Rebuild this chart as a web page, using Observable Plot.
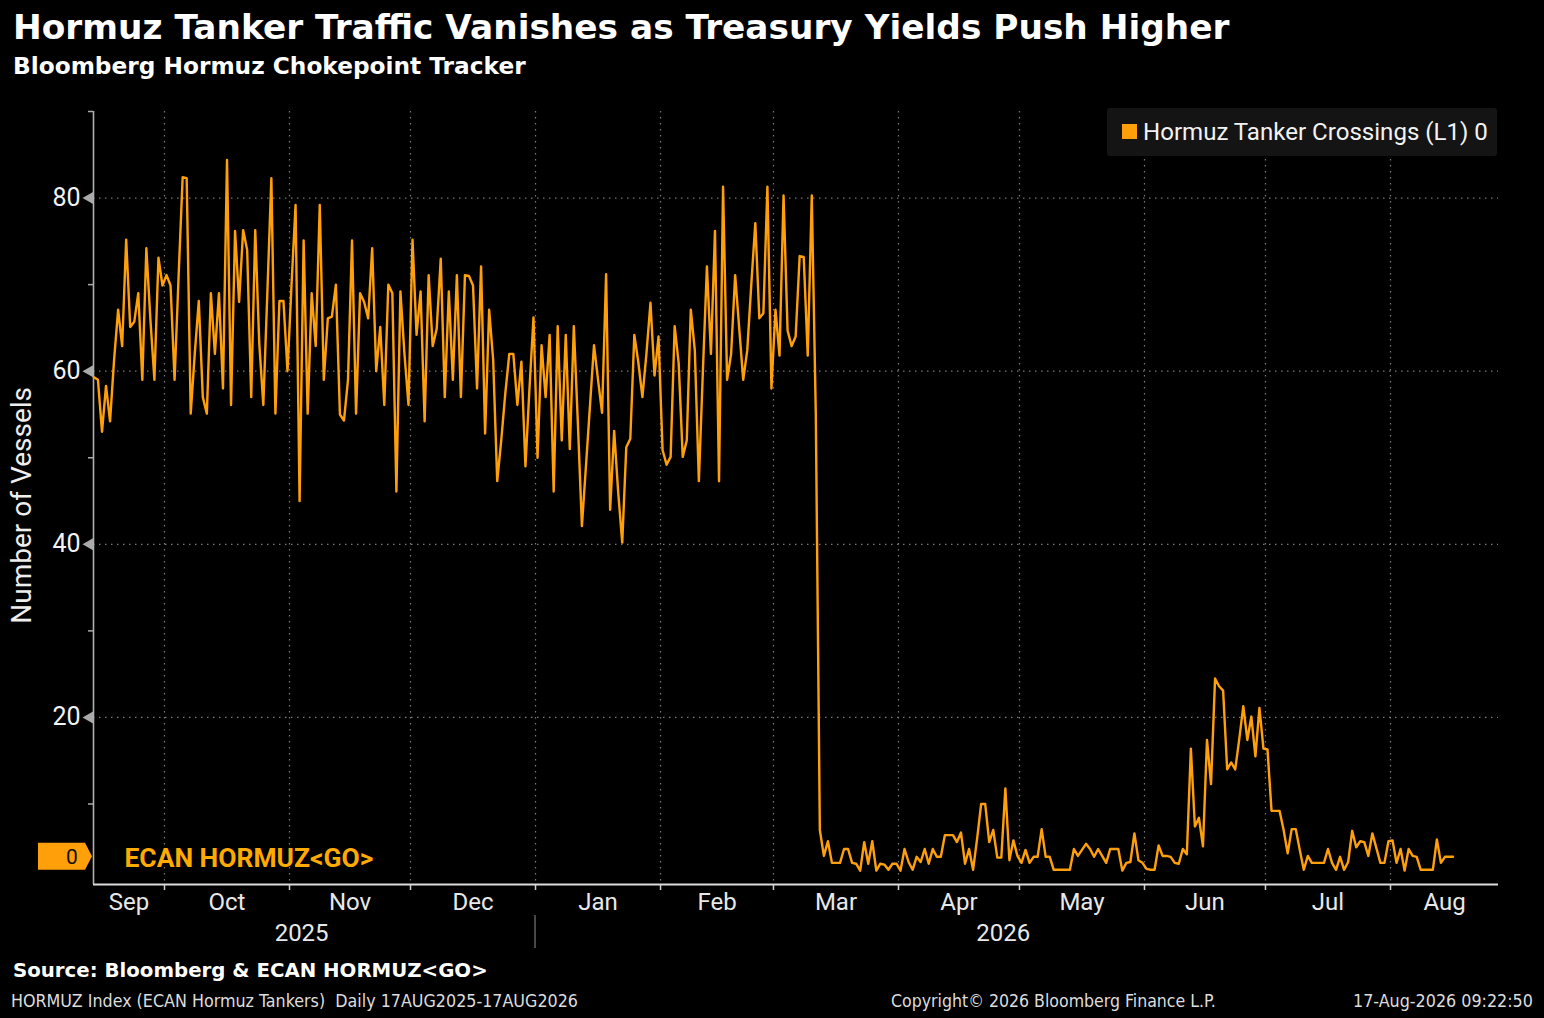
<!DOCTYPE html>
<html>
<head>
<meta charset="utf-8">
<script src="https://cdn.jsdelivr.net/npm/d3@7"></script>
<script src="https://cdn.jsdelivr.net/npm/@observablehq/plot@0.6"></script>
<style>
  html, body { margin: 0; padding: 0; background: #000; }
  body { width: 1544px; height: 1018px; position: relative; overflow: hidden; }
  .t { position: absolute; white-space: pre; display: inline-block; line-height: 1; transform: translateY(-50%); }
  #title { left: 13px; top: 27px; font: bold 32px "DejaVu Sans", sans-serif; color: #fff; }
  #subtitle { left: 13px; top: 65px; font: bold 22px "DejaVu Sans", sans-serif; color: #fff; }
  #source { left: 13px; top: 970px; font: bold 19px "DejaVu Sans", sans-serif; color: #fff; }
  #foot1 { left: 11px; top: 1001px; font: 16px "DejaVu Sans Condensed", "DejaVu Sans", sans-serif; color: #ddd; }
  #foot2 { left: 891px; top: 1001px; font: 16px "DejaVu Sans Condensed", "DejaVu Sans", sans-serif; color: #ddd; }
  #foot3 { left: 1353px; top: 1001px; font: 16px "DejaVu Sans Condensed", "DejaVu Sans", sans-serif; color: #ddd; }
  #chart { position: absolute; left: 0; top: 88px; }
  #legend { position: absolute; left: 1107px; top: 108px; width: 390px; height: 48px; background: #141414; border-radius: 3px; }
  #legend .sw { position: absolute; left: 15px; top: 16px; width: 15px; height: 15px; }
  #legend .lt { position: absolute; left: 36px; top: 24px; white-space: nowrap; line-height: 1; transform: translateY(-50%); font: 23px Roboto, sans-serif; color: #f2f2f2; }
</style>
</head>
<body>
<div id="title" class="t"></div>
<div id="subtitle" class="t"></div>
<div id="chart"></div>
<div id="legend"><div class="sw"></div><div class="lt"></div></div>
<div id="source" class="t"></div>
<div id="foot1" class="t"></div>
<div id="foot2" class="t"></div>
<div id="foot3" class="t"></div>
<script>
// ---------------- DATA ----------------
const titleText = "Hormuz Tanker Traffic Vanishes as Treasury Yields Push Higher";
const subtitleText = "Bloomberg Hormuz Chokepoint Tracker";
const sourceText = "Source: Bloomberg & ECAN HORMUZ<GO>";
const footLeft = "HORMUZ Index (ECAN Hormuz Tankers)  Daily 17AUG2025-17AUG2026";
const footMid = "Copyright\u00a9 2026 Bloomberg Finance L.P.";
const footRight = "17-Aug-2026 09:22:50";
const seriesName = "Hormuz Tanker Crossings (L1) 0";
const tagText = "0";
const tickerText = "ECAN HORMUZ<GO>";
const yLabel = "Number of Vessels";

// first visible daily observation (13 Sep 2025), one value per day
const firstDay = "2025-09-13";
const values = [
  59.3, 59, 53, 58.3, 54.2, 61.3, 67.1, 62.9, 75.2, 65.1, 65.7, 69, 59, 74.2, 66, 59, 73.1, 69.9, 71.1, 69.9,
  59, 71, 82.4, 82.3, 55.1, 62, 68.1, 57, 55.1, 69, 62, 69, 58, 84.4, 56.1, 76.2, 68, 76.3, 74, 57,
  76.3, 63.2, 56.1, 69, 82.3, 55.1, 68.1, 68.1, 60, 70, 79.2, 45, 75.1, 55.1, 69, 62.9, 79.2, 59, 66.1, 66.3,
  70, 55, 54.3, 59, 75.1, 55.1, 69, 68, 66.1, 74.2, 60, 65.1, 56.1, 70, 69, 46.1, 69.2, 62, 56.1, 75.2,
  64.2, 69.2, 54.2, 71.1, 62.9, 64.9, 73, 57, 69.2, 59, 71.1, 57, 71.1, 71, 69.9, 58, 72.1, 52.8, 67.1, 61.3,
  47.3, 52, 57.4, 62, 62, 56.1, 61.1, 49, 58, 66.2, 50, 63, 57, 64.2, 46.1, 65.2, 52, 64.2, 51, 65.2,
  54, 42.1, 49, 56, 63, 59, 55.2, 71.2, 44, 53.1, 46, 40.2, 51.2, 52.2, 64.2, 61, 57, 62, 67.9, 59.5,
  64, 50.9, 49.2, 50.1, 65.2, 60.9, 50.1, 52, 67.1, 62.4, 47.3, 60, 72.1, 62, 76.2, 47.3, 81.3, 59, 62, 71.1,
  65, 59, 62.4, 70, 77.1, 66.1, 66.7, 81.3, 58, 67.1, 61.8, 80.3, 64.7, 62.9, 64, 73.3, 73.2, 61.8, 80.3, 55,
  7, 4.0, 5.7, 3.2, 3.2, 3.2, 4.8, 4.8, 3.2, 3.1, 2.3, 5.6, 3.1, 5.7, 2.3, 3.1, 3.0, 2.4, 3.1, 3.1,
  2.3, 4.8, 3.3, 2.4, 3.9, 3.3, 4.8, 3.1, 4.8, 3.9, 3.9, 6.4, 6.4, 6.4, 5.6, 6.7, 3.1, 4.8, 2.4, 6,
  10, 10, 5.6, 7, 3.8, 3.8, 11.8, 3.5, 5.8, 4.0, 3.2, 4.7, 3.2, 3.9, 3.9, 7.1, 3.9, 3.9, 2.4, 2.4,
  2.4, 2.4, 2.4, 4.8, 4.0, 4.7, 5.4, 4.8, 3.9, 4.8, 4.0, 3.2, 4.8, 4.8, 4.8, 2.3, 3.2, 3.3, 6.6, 3.5,
  3.2, 2.5, 2.4, 2.4, 5.2, 4.0, 4.0, 3.9, 3.2, 3.1, 4.8, 4.2, 16.4, 7.4, 8.4, 5.1, 17.4, 12.3, 24.5, 23.6,
  23.1, 14, 14.8, 14, 17.5, 21.3, 17.4, 20.1, 15.5, 21.1, 16.4, 16.3, 9.2, 9.2, 9.2, 7, 4.3, 7.1, 7.1, 4.7,
  2.4, 4.0, 3.2, 3.2, 3.2, 3.2, 4.8, 3.2, 2.4, 3.9, 2.4, 3.3, 6.9, 5.0, 5.7, 5.6, 4.0, 6.6, 4.9, 3.2,
  3.2, 5.7, 5.8, 3.2, 4.8, 2.3, 4.8, 4.0, 3.9, 2.4, 2.4, 2.4, 2.4, 5.9, 3.2, 3.9, 3.9, 3.9
];

const monthLabels = ["Sep", "Oct", "Nov", "Dec", "Jan", "Feb", "Mar", "Apr", "May", "Jun", "Jul", "Aug"];
const yearLabels = ["2025", "2026"];
const yearLabelDates = ["2025-11-04", "2026-04-27"];
const yearBreak = "2026-01-01";
const yTicks = [20, 40, 60, 80];
const yMinorTicks = [10, 30, 50, 70, 90];
const xDomainISO = ["2025-09-13T09:30:00Z", "2026-08-27T18:45:00Z"];
const yDomain = [0.7, 90];
const yLabelAt = 44.5; // vertical centre of the axis title, in axis units

// ---------------- STYLE ----------------
const ORANGE = "#ffa00a";
const GRID = "#7a7a7a";

// ---------------- BUILD ----------------
const t0 = new Date(firstDay + "T12:00:00Z");
const data = values.map((v, i) => ({ date: d3.utcDay.offset(t0, i), value: v }));
const xDomain = xDomainISO.map(s => new Date(s));
const monthStarts = d3.utcMonths(xDomain[0], xDomain[1]);
const monthBounds = [xDomain[0], ...monthStarts, xDomain[1]];
const monthMids = monthLabels.map((m, i) => new Date((+monthBounds[i] + +monthBounds[i + 1]) / 2));
const yearDates = yearLabelDates.map(s => new Date(s + "T00:00:00Z"));
const last = data[data.length - 1];

const plot = Plot.plot({
  width: 1544,
  height: 870,
  marginLeft: 93,
  marginRight: 46,
  marginTop: 23,
  marginBottom: 74,
  style: { background: "#000", color: "#e6e6e6", fontFamily: "Roboto, sans-serif", overflow: "visible" },
  x: { type: "utc", domain: xDomain, axis: null },
  y: { domain: yDomain, axis: null, label: null },
  marks: [
    Plot.gridY(yTicks, { stroke: GRID, strokeOpacity: 1, strokeDasharray: "1.5,4.5", strokeWidth: 1.2 }),
    Plot.gridX(monthStarts, { stroke: GRID, strokeOpacity: 1, strokeDasharray: "1.5,4.5", strokeWidth: 1.2 }),
    Plot.axisX({ ticks: monthStarts, tickSize: 6, tickFormat: () => "", stroke: "#cfcfcf", strokeWidth: 1.5 }),
    Plot.axisY({ ticks: yMinorTicks, tickSize: 5, tickFormat: () => "", stroke: "#aaa", strokeWidth: 1.5, label: null }),
    Plot.ruleX([xDomain[0]], { stroke: "#b0b0b0", strokeWidth: 1.6 }),
    Plot.ruleY([yDomain[0]], { stroke: "#dcdcdc", strokeWidth: 1.8 }),
    Plot.dot(yTicks, { x: yTicks.map(() => xDomain[0]), y: d => d, symbol: "triangle", r: 4.5, rotate: -90, dx: -4, fill: "#aaa", stroke: "none" }),
    Plot.text(yTicks, { x: yTicks.map(() => xDomain[0]), y: d => d, text: d => String(d), textAnchor: "end", dx: -13, fontSize: 25, fill: "#f2f2f2" }),
    Plot.line(data, { x: "date", y: "value", stroke: ORANGE, strokeWidth: 2.4, strokeLinejoin: "round" }),
    Plot.text(monthLabels, { x: monthMids, text: d => d, frameAnchor: "bottom", dy: 25, fontSize: 24, fill: "#e8e8e8" }),
    Plot.text(yearLabels, { x: yearDates, text: d => d, frameAnchor: "bottom", dy: 56, fontSize: 24, fill: "#e8e8e8" }),
    Plot.text([yLabel], { x: [xDomain[0]], y: [yLabelAt], text: d => d, rotate: -90, dx: -71, fontSize: 28, fill: "#eeeeee" }),
    Plot.text([tickerText], { text: d => d, frameAnchor: "bottom-left", textAnchor: "start", dx: 31, dy: -18, fontSize: 22, fontWeight: "bold", fill: "#ffaa00", className: "ticker" })
  ]
});
document.getElementById("chart").appendChild(plot);

// value tag on the left axis & year separator, positioned through the plot's own scales
const svg = d3.select(plot);
const xs = plot.scale("x"), ys = plot.scale("y");
const ty = ys.apply(last.value);
const ax = xs.apply(xDomain[0]);
const g = svg.append("g");
g.append("path")
  .attr("d", `M${ax - 55},${ty - 13.5} L${ax - 8},${ty - 13.5} L${ax - 1},${ty} L${ax - 8},${ty + 13.5} L${ax - 55},${ty + 13.5} Z`)
  .attr("fill", ORANGE);
g.append("text").attr("x", ax - 21).attr("y", ty).attr("dy", "0.35em").attr("text-anchor", "middle")
  .attr("font-family", "Roboto, sans-serif").attr("font-size", 21).attr("fill", "#111").text(tagText);
const bx = xs.apply(new Date(yearBreak + "T00:00:00Z"));
const by = ys.apply(yDomain[0]);
svg.append("line").attr("x1", bx).attr("x2", bx).attr("y1", by + 31).attr("y2", by + 64)
  .attr("stroke", "#777").attr("stroke-width", 1.2);

// fit the ticker text to its width in the reference
const tick = plot.querySelector(".ticker text");
if (tick) {
  const w = tick.getComputedTextLength();
  const fs = 22 * 249 / w;
  tick.setAttribute("font-size", fs);
  tick.style.fontSize = fs + "px";
}

// ---------------- HTML TEXT ----------------
function setFit(id, text, width) {
  const el = document.getElementById(id);
  el.textContent = text;
  const fs = parseFloat(getComputedStyle(el).fontSize);
  const w = el.getBoundingClientRect().width;
  el.style.fontSize = (fs * width / w) + "px";
}
setFit("title", titleText, 1217);
setFit("subtitle", subtitleText, 513);
setFit("source", sourceText, 475);
setFit("foot1", footLeft, 567);
setFit("foot2", footMid, 325);
setFit("foot3", footRight, 180);
document.querySelector("#legend .sw").style.background = ORANGE;
const lt = document.querySelector("#legend .lt");
lt.textContent = seriesName;
{
  const fs = parseFloat(getComputedStyle(lt).fontSize);
  const w = lt.getBoundingClientRect().width;
  lt.style.fontSize = (fs * 345 / w) + "px";
}
</script>
</body>
</html>
